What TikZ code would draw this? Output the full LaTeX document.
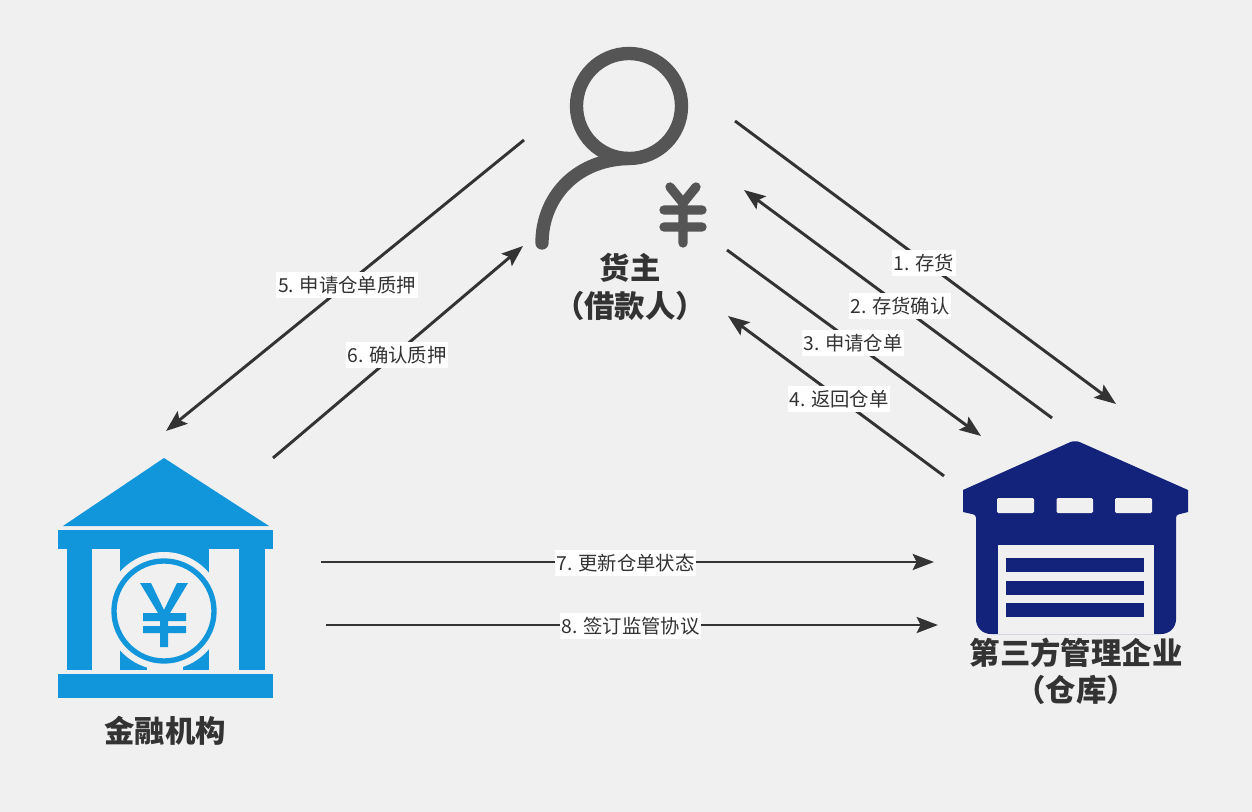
\documentclass[tikz,border=0pt]{standalone}
\usepackage{fontspec}
\setmainfont{Noto Sans CJK SC}
\usetikzlibrary{arrows.meta}
\definecolor{pagebg}{HTML}{F0F0F0}
\definecolor{flowgray}{HTML}{333333}
\definecolor{ownergray}{HTML}{555555}
\definecolor{bankblue}{HTML}{1296DB}
\definecolor{depotblue}{HTML}{13227A}
\tikzset{
  flow/.style={draw=flowgray,line width=2.2pt,-{Stealth[length=16pt,width=12pt,inset=3pt]}},
  steplabel/.style={fill=white,text=flowgray,font=\fontsize{14.5}{16}\selectfont,inner xsep=1.2pt,inner ysep=0pt,minimum height=19.5pt},
  title/.style={text=flowgray,font=\fontsize{22.8}{28}\selectfont\bfseries,align=center,inner sep=0pt},
  owner/.style={draw=ownergray,line width=10pt,line cap=round},
}
\begin{document}
\begin{tikzpicture}[x=0.75pt,y=-0.75pt]
    \fill[pagebg] (0,0) rectangle (1252,812);

    % borrower
    \draw[owner] (629,106) circle (52.5);
    \draw[owner] (542,243) .. controls (542,198) and (575,160) .. (628,158.5);
    \draw[owner,line width=7pt] (670,187) -- (683,203) -- (696,187) (683,203) -- (683,243)
      (664,210) -- (702,210) (664,227) -- (702,227);
    \node[title] (owner) at (630,287) {货主\\（借款人）};

    % bank
    \fill[bankblue] (164,458) -- (269,526) -- (63,526) -- cycle;
    \fill[bankblue] (58,530) rectangle (273,549);
    \fill[bankblue] (66.5,549) rectangle (92,670);
    \fill[bankblue] (239,549) rectangle (265,670);
    \fill[bankblue] (120,549) rectangle (209,670);
    \fill[bankblue] (58,674) rectangle (273,698);
    \fill[pagebg] (164,611) circle (59);
    \fill[pagebg] (146.5,650) rectangle (183,670);
    \draw[bankblue,line width=4pt] (164,611) circle (50);
    \fill[bankblue] (140,583) -- (151,583) -- (164,610) -- (177,583) -- (188,583) -- (170,613)
      -- (186,613) -- (186,621) -- (168,621) -- (168,626) -- (186,626) -- (186,633) -- (168,633)
      -- (168,647) -- (160,647) -- (160,633) -- (143,633) -- (143,626) -- (160,626) -- (160,621)
      -- (143,621) -- (143,613) -- (158,613) -- cycle;
    \node[title] (bank) at (165,731) {金融机构};

    % warehouse
    \fill[depotblue] (963,490) [rounded corners=4pt] -- (1075,440) [sharp corners] -- (1188,490)
      -- (1188,512) [rounded corners=2pt] -- (1176,515) [rounded corners=11pt] -- (1176,634)
      -- (976,634) [rounded corners=2pt] -- (976,515) [sharp corners] -- (963,512) -- cycle;
    \fill[pagebg] (998,545) rectangle (1154,634);
    \fill[pagebg,rounded corners=1pt] (997,498) rectangle (1034,513);
    \fill[pagebg,rounded corners=1pt] (1056.5,498) rectangle (1093,513);
    \fill[pagebg,rounded corners=1pt] (1115,498) rectangle (1152,513);
    \fill[depotblue] (1006,558) rectangle (1144,572);
    \fill[depotblue] (1006,581) rectangle (1144,595);
    \fill[depotblue] (1006,603) rectangle (1144,617);
    \node[title] (depot) at (1076,671) {第三方管理企业\\（仓库）};

    % flow ends
    \coordinate (a1) at (735,121);   \coordinate (b1) at (1116,404);
    \coordinate (a2) at (1052,418);  \coordinate (b2) at (744,190);
    \coordinate (a3) at (727,250);   \coordinate (b3) at (981,436);
    \coordinate (a4) at (944,476);   \coordinate (b4) at (728,316);
    \coordinate (a5) at (524,140);   \coordinate (b5) at (166,431);
    \coordinate (a6) at (273,458);   \coordinate (b6) at (523,246);
    \coordinate (a7) at (321,562);   \coordinate (b7) at (934,562);
    \coordinate (a8) at (326,625);   \coordinate (b8) at (938,625);

    \draw[flow] (a1) -- (b1);
    \draw[flow] (a2) -- (b2);
    \draw[flow] (a3) -- (b3);
    \draw[flow] (a4) -- (b4);
    \draw[flow] (a5) -- (b5);
    \draw[flow] (a6) -- (b6);
    \draw[flow] (a7) -- (b7);
    \draw[flow] (a8) -- (b8);

    \node[steplabel] (step1) at (924,263) {1. 存货};
    \node[steplabel] (step2) at (900,306) {2. 存货确认};
    \node[steplabel] (step3) at (853,343) {3. 申请仓单};
    \node[steplabel] (step4) at (839,399) {4. 返回仓单};
    \node[steplabel] (step5) at (347,285) {5. 申请仓单质押};
    \node[steplabel] (step6) at (397,355) {6. 确认质押};
    \node[steplabel] (step7) at (625.5,563) {7. 更新仓单状态};
    \node[steplabel] (step8) at (630.5,626) {8. 签订监管协议};
\end{tikzpicture}
\end{document}
